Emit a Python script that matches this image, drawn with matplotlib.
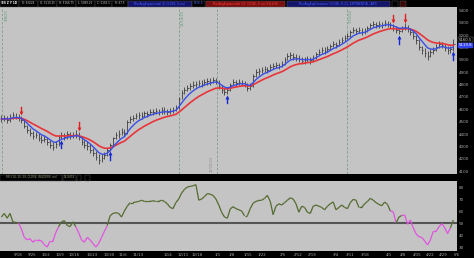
import matplotlib
matplotlib.use("Agg")
import matplotlib.pyplot as plt
from matplotlib.collections import LineCollection
from matplotlib.patches import Rectangle
import numpy as np
import pandas as pd

# daily bars (price units)
closes = [4522, 4530, 4514, 4530, 4554, 4538, 4530, 4514, 4465, 4433,
          4409, 4384, 4392, 4368, 4352, 4360, 4336, 4312, 4296, 4320,
          4376, 4392, 4376, 4401, 4384, 4392, 4401, 4376, 4336, 4312,
          4304, 4271, 4247, 4215, 4190, 4207, 4231, 4271, 4312, 4368,
          4392, 4401, 4417, 4409, 4497, 4522, 4530, 4546, 4554, 4546,
          4570, 4562, 4578, 4578, 4586, 4578, 4594, 4586, 4578, 4586,
          4594, 4611, 4683, 4732, 4756, 4772, 4788, 4796, 4805, 4813,
          4805, 4821, 4829, 4821, 4837, 4829, 4788, 4756, 4740, 4756,
          4796, 4821, 4813, 4821, 4813, 4805, 4772, 4788, 4869, 4901,
          4909, 4918, 4926, 4918, 4942, 4950, 4958, 4950, 4966, 4998,
          5031, 5039, 5023, 5015, 5006, 4990, 4998, 5006, 4998, 5015,
          5047, 5063, 5079, 5071, 5087, 5112, 5128, 5120, 5144, 5160,
          5176, 5192, 5225, 5241, 5233, 5241, 5225, 5233, 5257, 5281,
          5289, 5281, 5289, 5281, 5297, 5289, 5281, 5257, 5241, 5233,
          5257, 5265, 5249, 5225, 5192, 5160, 5103, 5079, 5055, 5031,
          5063, 5079, 5103, 5128, 5120, 5095, 5079, 5087, 5128]
highs = [4550, 4555, 4545, 4560, 4580, 4570, 4560, 4545, 4525, 4475,
         4450, 4425, 4420, 4410, 4390, 4390, 4375, 4350, 4335, 4345,
         4395, 4420, 4410, 4425, 4420, 4420, 4430, 4420, 4385, 4350,
         4340, 4320, 4285, 4265, 4235, 4240, 4255, 4290, 4330, 4380,
         4420, 4430, 4445, 4440, 4510, 4545, 4555, 4570, 4580, 4575,
         4590, 4590, 4600, 4600, 4610, 4605, 4620, 4615, 4605, 4610,
         4620, 4635, 4700, 4755, 4780, 4795, 4810, 4825, 4830, 4840,
         4835, 4845, 4855, 4850, 4860, 4855, 4835, 4800, 4770, 4780,
         4810, 4845, 4840, 4845, 4840, 4830, 4815, 4810, 4885, 4925,
         4935, 4945, 4950, 4945, 4965, 4975, 4985, 4975, 4990, 5020,
         5055, 5065, 5055, 5045, 5035, 5020, 5025, 5030, 5025, 5040,
         5065, 5085, 5100, 5100, 5110, 5130, 5150, 5145, 5165, 5185,
         5200, 5215, 5245, 5265, 5260, 5265, 5255, 5255, 5275, 5300,
         5310, 5305, 5310, 5305, 5320, 5315, 5305, 5290, 5270, 5260,
         5275, 5295, 5280, 5260, 5235, 5200, 5170, 5115, 5095, 5070,
         5085, 5100, 5125, 5150, 5145, 5130, 5110, 5110, 5165]
lows = [4500, 4505, 4490, 4500, 4520, 4520, 4505, 4490, 4445, 4410,
        4385, 4360, 4365, 4345, 4325, 4335, 4310, 4285, 4270, 4285,
        4305, 4360, 4350, 4360, 4360, 4365, 4370, 4355, 4315, 4285,
        4275, 4245, 4220, 4190, 4160, 4175, 4195, 4220, 4265, 4300,
        4360, 4370, 4390, 4385, 4400, 4490, 4505, 4520, 4525, 4520,
        4540, 4540, 4550, 4555, 4560, 4555, 4565, 4565, 4555, 4560,
        4570, 4585, 4600, 4680, 4720, 4745, 4760, 4770, 4780, 4785,
        4780, 4795, 4800, 4795, 4810, 4805, 4765, 4730, 4715, 4725,
        4745, 4790, 4790, 4795, 4785, 4780, 4750, 4760, 4780, 4860,
        4880, 4890, 4900, 4890, 4910, 4925, 4930, 4925, 4940, 4960,
        4995, 5010, 5000, 4990, 4980, 4965, 4970, 4980, 4970, 4985,
        5010, 5040, 5055, 5045, 5060, 5080, 5100, 5095, 5110, 5135,
        5150, 5165, 5185, 5215, 5205, 5215, 5200, 5205, 5225, 5250,
        5265, 5255, 5260, 5255, 5270, 5265, 5255, 5235, 5215, 5205,
        5225, 5240, 5225, 5200, 5165, 5130, 5080, 5050, 5025, 4995,
        5020, 5045, 5070, 5095, 5095, 5070, 5050, 5055, 5075]

rsi = [55, 58, 54, 58, 51, 50.5, 50, 45, 38, 36,
       37, 34, 36, 36, 35, 32, 30, 35, 35, 42,
       47, 51, 52, 48, 47, 51, 47, 42, 36, 34,
       38, 36, 33, 30, 33, 38, 43, 48, 56, 58,
       58.6, 58, 55, 60, 64, 67, 67, 67.5, 68, 69,
       68, 68, 68, 68.5, 68, 68, 69, 68, 66, 63,
       62, 67, 70, 75, 78, 80, 80.5, 81, 82, 69,
       70, 72, 74.5, 74, 73, 70, 65, 59, 55, 54,
       61.7, 63.6, 62, 61, 60, 56, 56, 62, 66.5, 68,
       68.8, 69, 70.5, 73, 68, 57, 64, 66, 65, 67,
       69, 71, 70, 66, 59, 64, 63, 59, 58, 64,
       65, 64, 63, 61, 64, 66, 67.6, 61, 63, 65,
       63, 62, 67, 69.7, 69, 63, 63, 66, 68, 70.6,
       69, 67, 65.5, 64.4, 67.5, 65.5, 60, 59.4, 50, 55,
       56.3, 56.7, 49, 52.5, 46, 41, 38.5, 38, 35, 31.7,
       36, 43, 43, 47, 49.5, 46, 41.2, 46, 52.5]

down_arrows = [7, 27, 137, 141]
up_arrows = [21, 38, 79, 139, 158]
event_bars = [0.2, 62, 75.3, 120.8]

tick_pos = [5.8, 10.7, 15.6, 20.5, 25.3, 31.6, 37.6, 42.5, 47.7, 58.2,
            63.5, 68.4, 75.7, 80.6, 86.2, 91.1, 98.4, 103.7, 108.6, 117,
            121.9, 127.1, 135.5, 140.4, 145.3, 149.8, 154.4, 159.3]
tick_labels = ["9/18", "9/25", "10/2", "10/9", "10/16", "10/23", "10/30", "11/6",
               "11/13", "12/4", "12/11", "12/18", "1/1", "1/8", "1/15", "1/22",
               "2/5", "2/12", "2/19", "3/4", "3/11", "3/18", "4/1", "4/8",
               "4/15", "4/22", "4/29", "5/6"]
price_ticks = [5400, 5300, 5200, 5100, 5000, 4900, 4800, 4700, 4600, 4500,
               4400, 4300, 4200, 4100]
rsi_ticks = [80, 70, 60, 50, 40, 30]

BG = "#c4c4c4"
BAR = "#3c3c3c"
BLUE = "#3a4ee6"
RED = "#e8343a"
GREEN = "#546b30"
MAGENTA = "#e252e2"
TXT = "#a8a8a8"

x = np.arange(len(closes))
fast = pd.Series(closes).ewm(span=6, adjust=False).mean()
slow = pd.Series(closes).ewm(span=15, adjust=False).mean()

fig = plt.figure(figsize=(4.74, 2.58), dpi=100, facecolor="black")
W, H = 474, 258


def px_axes(l, t, r, b):
    return fig.add_axes([l / W, 1 - b / H, (r - l) / W, (b - t) / H])


ax = px_axes(0, 7, 457, 174)
ax2 = px_axes(0, 181, 457, 251)

for a in (ax, ax2):
    a.set_facecolor(BG)
    for s in a.spines.values():
        s.set_visible(False)
    a.set_xlim(-0.5, 159.3)
    a.yaxis.tick_right()
    a.tick_params(axis="y", length=0, pad=1.5, labelsize=3, labelcolor=TXT)

# price panel
ax.set_ylim(4077, 5427)
ax.set_yticks(price_ticks)
ax.set_xticks([])
for e in event_bars:
    ax.axvline(e, color="#7f9c88", lw=0.6, ls=(0, (3, 2)), zorder=1)
ax.vlines(x, lows, highs, color=BAR, lw=0.6, zorder=2)
ax.hlines(closes, x, x + 0.55, color=BAR, lw=0.6, zorder=2)
ax.plot(x, slow, color=RED, lw=1.2, zorder=3)
ax.plot(x, fast, color=BLUE, lw=1.0, zorder=4)

# crossover arrows: short shaft plus a small head
for i in down_arrows:
    tip = highs[i] + 14
    ax.plot([i, i], [tip + 12, tip + 62], color="#e02020", lw=1.0, zorder=5)
    ax.plot(i, tip + 8, marker="v", ms=2.8, color="#e02020", mew=0, zorder=5)
for i in up_arrows:
    tip = lows[i] - 14
    ax.plot([i, i], [tip - 12, tip - 62], color="#1428d8", lw=1.0, zorder=5)
    ax.plot(i, tip - 8, marker="^", ms=2.8, color="#1428d8", mew=0, zorder=5)

ax.text(1.2, 5405, "9/8/23", rotation=90, fontsize=2.6, color="#5f9a7a",
        va="top", ha="left")
ax.text(62.6, 5405, "11/14/23", rotation=90, fontsize=2.6, color="#5f9a7a",
        va="top", ha="left")
ax.text(121.4, 5405, "3/12/24", rotation=90, fontsize=2.6, color="#5f9a7a",
        va="top", ha="left")
ax.text(74.3, 4095, "12/29/23", rotation=90, fontsize=2.6, color="#8a8a8a",
        va="bottom", ha="right")

ax.text(1.004, 5163, "5160.5", transform=ax.get_yaxis_transform(),
        fontsize=2.8, color="#d0d0d0", va="center", ha="left",
        bbox=dict(boxstyle="square,pad=0.12", fc="black", ec="#777", lw=0.3))
ax.text(1.004, 5117, "5119.8", transform=ax.get_yaxis_transform(),
        fontsize=2.8, color="white", va="center", ha="left",
        bbox=dict(boxstyle="square,pad=0.12", fc="#3344ee", ec="#3344ee", lw=0.3))

# RSI panel
ax2.set_ylim(26.7, 85)
ax2.set_yticks(rsi_ticks)
ax2.axhline(50, color="#555555", lw=1.5, zorder=1)
state = []
bull = True
for i in range(len(rsi)):
    if i in down_arrows:
        bull = False
    if i in up_arrows:
        bull = True
    state.append(bull)
segs = [[(i, rsi[i]), (i + 1, rsi[i + 1])] for i in range(len(rsi) - 1)]
cols = [GREEN if state[i + 1] else MAGENTA for i in range(len(rsi) - 1)]
ax2.add_collection(LineCollection(segs, colors=cols, lw=0.9, zorder=2))
ax2.set_xticks(tick_pos)
ax2.set_xticklabels(tick_labels)
ax2.tick_params(axis="x", length=0, pad=1.2, labelsize=2.8, labelcolor=TXT)

# header strips
ov = fig.add_axes([0, 0, 1, 1], facecolor="none")
ov.set_xlim(0, W)
ov.set_ylim(H, 0)
ov.axis("off")


def box(l, r, t, b, label, fc="black", tc="#c8c8c8", ec="#5a5a5a", bold=False):
    ov.add_patch(Rectangle((l, t), r - l, b - t, fc=fc, ec=ec, lw=0.3))
    if label:
        ov.text((l + r) / 2, (t + b) / 2, label, fontsize=2.0, color=tc,
                va="center", ha="center",
                fontweight="bold" if bold else "normal")


box(0, 19, 0.5, 6.5, "/ES Z Y 1D", tc="white", bold=True)
box(19, 38, 0.5, 6.5, "D: 5/6/24")
box(38, 57, 0.5, 6.5, "O: 5110.25")
box(57, 76, 0.5, 6.5, "H: 5166.75")
box(76, 95, 0.5, 6.5, "L: 5099.25")
box(95, 112, 0.5, 6.5, "C: 5161.5")
box(112, 128, 0.5, 6.5, "R: 67.5")
box(128, 192, 0.5, 6.5, "MovAvgExponential (8, CLOSE, 0, no)", fc="#14146a", tc="#4a64ff")
box(192, 205, 0.5, 6.5, "5136.6", tc="#4a64ff")
box(206, 285, 0.5, 6.5, "MovAvgExponential (21, CLOSE, 0, no) 5116.96", fc="#7a1010", tc="#ff4040")
box(287, 390, 0.5, 6.5, "MovAvgExpCrossover (CLOSE, 8, 21, EXPONENTIAL, ANY)", fc="#14146a", tc="#4a64ff")
box(392, 398, 0.5, 6.5, "", tc="#4a64ff")
box(400, 406, 0.5, 6.5, "", fc="#3a0808", tc="#ff4040")

box(0, 62, 174.5, 180.5, "RSI (14, 50, 50, CLOSE, WILDERS, no)", tc="#a0a080")
box(63, 76, 174.5, 180.5, "52.8474", tc="#a0a080")
box(77, 81, 174.5, 180.5, "")
box(85, 90, 174.5, 180.5, "")

fig.savefig("out.png", dpi=100, facecolor="black")
